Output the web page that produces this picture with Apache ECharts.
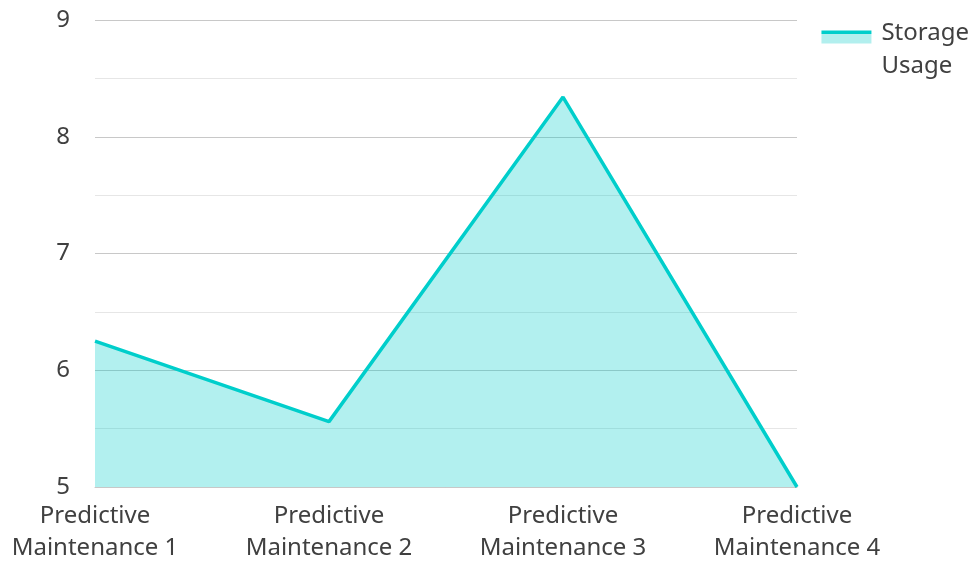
<!DOCTYPE html>
<html>
<head>
<meta charset="utf-8">
<script src="https://cdn.jsdelivr.net/npm/echarts@6/dist/echarts.min.js"></script>
<style>
  html, body { margin: 0; padding: 0; background: #fff; }
  #content { width: 973px; height: 561px; }
</style>
</head>
<body>
<div id="content"></div>
<script>
// data
var categories = ['Predictive Maintenance 1', 'Predictive Maintenance 2', 'Predictive Maintenance 3', 'Predictive Maintenance 4'];
var storageUsage = [6.25, 5.56, 8.34, 5.0];
var seriesName = 'Storage Usage';

var lineColor = '#00cecb';
var fillColor = 'rgba(0, 206, 203, 0.3)';
var textColor = '#404040';
var font = 'Noto Sans';

var myChart = echarts.init(document.getElementById('content'));
myChart.setOption({
    animation: false,
    textStyle: { fontFamily: font },
    grid: { left: 95, right: 176, top: 20, bottom: 74, containLabel: false, outerBoundsMode: 'none' },
    legend: {
        right: -1,
        top: -6,
        orient: 'vertical',
        icon: 'rect',
        itemWidth: 50,
        itemHeight: 13,
        itemGap: 10,
        // blank first line pushes the name down so the icon sits beside "Storage"
        formatter: function (name) {
            return '{s| }\n' + name.split(' ').map(function (w) { return '{a|' + w + '}'; }).join('\n');
        },
        itemStyle: {
            color: {
                type: 'linear', x: 0, y: 0, x2: 0, y2: 1,
                colorStops: [
                    { offset: 0, color: lineColor },
                    { offset: 0.28, color: lineColor },
                    { offset: 0.28, color: '#b2efee' },
                    { offset: 1, color: '#b2efee' }
                ]
            }
        },
        textStyle: {
            fontFamily: font,
            fontSize: 24,
            color: textColor,
            rich: {
                a: { fontFamily: font, fontSize: 24, color: textColor, lineHeight: 33, padding: [0, 0, 0, 5] },
                s: { fontSize: 10, lineHeight: 25 }
            }
        },
        data: [seriesName]
    },
    //X轴
    xAxis: {
        type: 'category',
        boundaryGap: false,
        data: categories,
        axisLine: { show: true, lineStyle: { color: '#c8c8c8', width: 1 } },
        axisTick: { show: false },
        axisLabel: {
            fontFamily: font,
            fontSize: 24,
            color: textColor,
            lineHeight: 32,
            margin: 13,
            formatter: function (v) { return v.replace(' Maintenance', '\nMaintenance'); }
        }
    },
    //Y轴
    yAxis: {
        type: 'value',
        min: 5,
        max: 9,
        interval: 1,
        axisLine: { show: false },
        axisTick: { show: false },
        axisLabel: {
            fontFamily: font,
            fontSize: 24,
            color: textColor,
            margin: 25
        },
        splitLine: { lineStyle: { color: '#c8c8c8', width: 1 } },
        minorTick: { show: false, splitNumber: 2 },
        minorSplitLine: { show: true, lineStyle: { color: '#e6e6e6', width: 1 } }
    },
    series: [{
        name: seriesName,
        type: 'line',
        data: storageUsage,
        symbol: 'none',
        color: lineColor,
        lineStyle: { color: lineColor, width: 3.5 },
        areaStyle: { color: fillColor, opacity: 1, origin: 'start' }
    }]
});
</script>
</body>
</html>
